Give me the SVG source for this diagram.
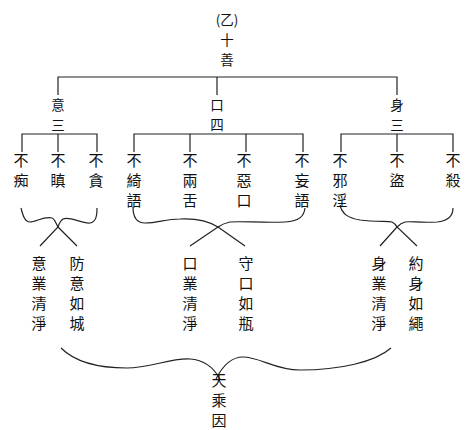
<svg xmlns="http://www.w3.org/2000/svg" width="474" height="430" viewBox="0 0 474 430">
<style>
text{font-family:"Noto Sans CJK TC","Noto Sans CJK SC","Noto Sans",sans-serif;font-size:15px;fill:#111;text-anchor:middle}
.s{font-size:13.5px}
.ln{fill:none;stroke:#222;stroke-width:1.2}
</style>
<rect width="474" height="430" fill="#fff"/>
<g id="connectors" class="ln">
<path d="M58,95 V77 H397 V95 M217,77 V95"/>
<path d="M22,152 V134 H97 V152 M58,134 V152"/>
<path d="M134,152 V134 H303 V152 M190,134 V152 M246,134 V152"/>
<path d="M341,152 V134 H453 V152 M397,134 V152"/>
<path d="M21,208 C23,216 25,222 30,222 C36,222 44,216 52,218 C55,219 56,224 58,227 L77,246"/>
<path d="M97,208 C97,216 96,222 90,223 C82,224 70,216 63,219 C60,221 59,224 58,227 L40,246"/>
<path d="M133,207 C133,216 136,223 145,223 C158,223 165,219 180,219 C200,218 210,222 218,227 L245,246"/>
<path d="M305,208 C304,216 300,221 285,222 C265,223 240,221 230,222 C225,223 221,225 218,227 L190,246"/>
<path d="M340,205 C342,214 348,218 360,220 C375,222 388,221 392,222 C394,223 396,225 397,227 L417,246"/>
<path d="M453,208 C453,216 448,221 437,222 C420,223 410,221 405,222 C401,223 399,225 397,227 L380,246"/>
<path d="M61,348 C75,362 100,368 127,368 C150,368 170,358 190,359 C205,360 214,368 220,379"/>
<path d="M391,348 C375,362 340,370 300,370 C275,370 260,357 243,357 C230,357 222,367 216,379"/>
</g>
<g id="root" class="s"><text class="s" x="227" y="25">(乙)</text><text class="s" x="227" y="45">十</text><text class="s" x="227" y="65">善</text></g>
<g id="yi"><text class="s" x="58" y="110">意</text><text class="s" x="58" y="130">三</text></g>
<g id="kou"><text class="s" x="217" y="110">口</text><text class="s" x="217" y="130">四</text></g>
<g id="shen"><text class="s" x="397" y="110">身</text><text class="s" x="397" y="130">三</text></g>
<g id="n1"><text x="21" y="166">不</text><text x="21" y="186">痴</text></g>
<g id="n2"><text x="58" y="166">不</text><text x="58" y="186">瞋</text></g>
<g id="n3"><text x="96" y="166">不</text><text x="96" y="186">貪</text></g>
<g id="n4"><text x="134" y="166">不</text><text x="134" y="186">綺</text><text x="134" y="206">語</text></g>
<g id="n5"><text x="190" y="166">不</text><text x="190" y="186">兩</text><text x="190" y="206">舌</text></g>
<g id="n6"><text x="244" y="166">不</text><text x="244" y="186">惡</text><text x="244" y="206">口</text></g>
<g id="n7"><text x="302" y="166">不</text><text x="302" y="186">妄</text><text x="302" y="206">語</text></g>
<g id="n8"><text x="340" y="166">不</text><text x="340" y="186">邪</text><text x="340" y="206">淫</text></g>
<g id="n9"><text x="397" y="166">不</text><text x="397" y="186">盜</text></g>
<g id="n10"><text x="453" y="166">不</text><text x="453" y="186">殺</text></g>
<g id="r1"><text x="39" y="269">意</text><text x="39" y="289">業</text><text x="39" y="309">清</text><text x="39" y="329">淨</text></g>
<g id="r2"><text x="77" y="269">防</text><text x="77" y="289">意</text><text x="77" y="309">如</text><text x="77" y="329">城</text></g>
<g id="r3"><text x="190" y="269">口</text><text x="190" y="289">業</text><text x="190" y="309">清</text><text x="190" y="329">淨</text></g>
<g id="r4"><text x="246" y="269">守</text><text x="246" y="289">口</text><text x="246" y="309">如</text><text x="246" y="329">瓶</text></g>
<g id="r5"><text x="379" y="269">身</text><text x="379" y="289">業</text><text x="379" y="309">清</text><text x="379" y="329">淨</text></g>
<g id="r6"><text x="416" y="269">約</text><text x="416" y="289">身</text><text x="416" y="309">如</text><text x="416" y="329">繩</text></g>
<g id="bottom"><text x="219" y="386">天</text><text x="219" y="406">乘</text><text x="219" y="426">因</text></g>
</svg>
